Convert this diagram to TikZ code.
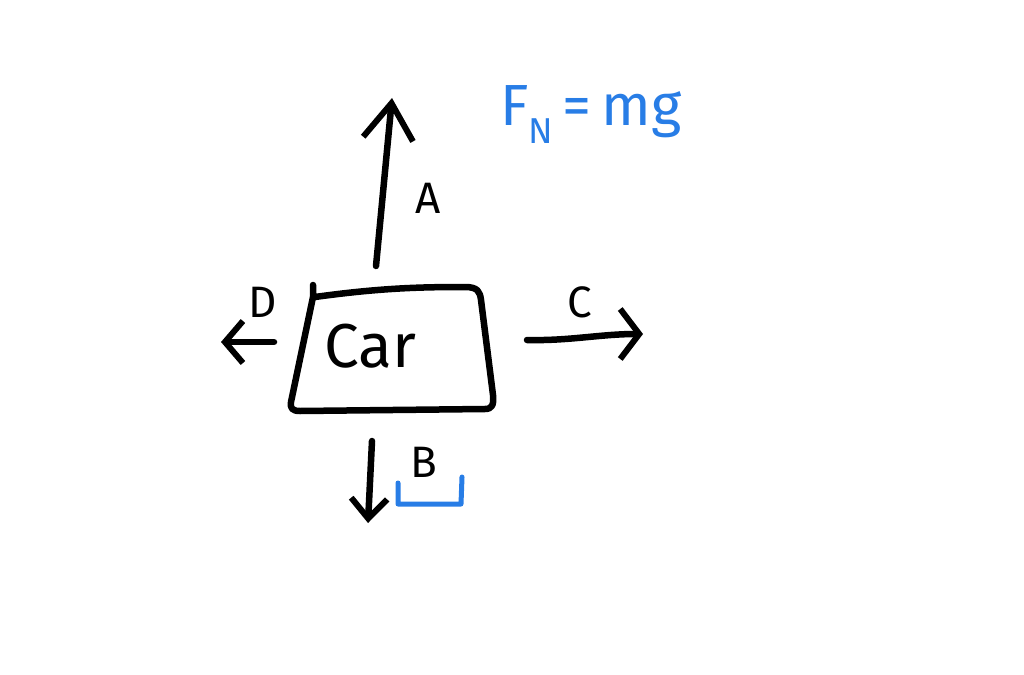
\documentclass[tikz,border=0pt]{standalone}
\usepackage{fontspec}
\setmainfont{Fira Sans}
\usetikzlibrary{arrows.meta}
\definecolor{penblue}{RGB}{40,125,230}
\tikzset{
  ink/.style={line width=6.5pt, line cap=round, line join=round, black},
  force/.style={ink, -{Straight Barb[length=36pt, width=50pt, line width=6pt]}},
  lbl/.style={font=\fontsize{44}{48}\selectfont, inner sep=0pt},
  bluepen/.style={line width=5pt, line cap=round, line join=round, penblue}
}
\begin{document}
\begin{tikzpicture}[x=1pt,y=-1pt]
\useasboundingbox (0,0) rectangle (1024,674);
% car box
\draw[ink] (313,285) -- (313,297) -- (315,297) .. controls (380,288) and (420,287) .. (465,287)
  .. controls (478,287) and (480,292) .. (481,300) -- (493,395)
  .. controls (494,405) and (492,409) .. (485,409) -- (300,411)
  .. controls (292,411) and (290,408) .. (291,402) -- (313,297);
\node[font=\fontsize{62}{64}\selectfont, inner sep=0pt] (car) at (370,346) {Car};
% force arrows
\coordinate (a0) at (376,266); \coordinate (a1) at (392,98);
\draw[force] (a0) -- (a1);
\node[lbl] (A) at (428,198) {A};
\coordinate (d0) at (274,342); \coordinate (d1) at (221,342);
\draw[force, -{Straight Barb[length=18pt, width=42pt, line width=6pt]}] (d0) -- (d1);
\node[lbl] (D) at (263,302) {D};
\coordinate (c0) at (527,340); \coordinate (c1) at (643,334);
\draw[force, -{Straight Barb[length=19pt, width=50pt, line width=6pt]}] (c0) .. controls (570,341) and (600,334) .. (c1);
\node[lbl] (C) at (580,302) {C};
\coordinate (b0) at (372,441); \coordinate (b1) at (368,523);
\draw[force, -{Straight Barb[length=20pt, width=36pt, line width=6pt]}] (b0) -- (b1);
\node[lbl] (B) at (424,462) {B};
% blue bracket
\coordinate (k1) at (398,483); \coordinate (k2) at (398,504);
\coordinate (k3) at (461,504); \coordinate (k4) at (462,477);
\draw[bluepen] (k1) -- (k2) -- (k3) -- (k4);
% equation
\node[penblue, inner sep=0pt, anchor=base west, font=\fontsize{58}{60}\selectfont] (eq) at (500,125)
  {F\raisebox{-18pt}{\fontsize{36}{38}\selectfont N}\,=\,mg};
\end{tikzpicture}
\end{document}
